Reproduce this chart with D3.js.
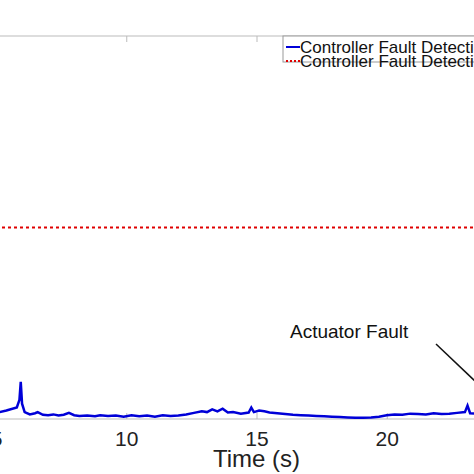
<!DOCTYPE html>
<html lang="en">
<head>
<meta charset="UTF-8">
<script src="https://d3js.org/d3.v7.min.js"></script>
<style>
  html, body { margin: 0; padding: 0; background: #fff; overflow: hidden; }
  svg { font-family: "Liberation Sans", Arial, sans-serif; }
</style>
</head>
<body>
<svg width="474" height="474"></svg>
<script>
  // residual samples (time in s, value as fraction of axis)
  const times = [5.0, 5.4, 5.8, 5.9, 5.95, 6.0, 6.1, 6.3, 6.5, 6.6, 6.8, 7.0, 7.2, 7.4, 7.6, 7.8, 8.0, 8.2, 8.5, 8.8, 9.0, 9.3, 9.6, 9.9, 10.2, 10.5, 10.8, 11.1, 11.4, 11.7, 12.0, 12.3, 12.6, 12.9, 13.1, 13.3, 13.5, 13.7, 13.9, 14.1, 14.4, 14.7, 14.8, 14.9, 15.1, 15.3, 15.5, 15.8, 16.1, 16.4, 16.7, 17.0, 17.3, 17.6, 17.9, 18.2, 18.5, 18.8, 19.1, 19.4, 19.7, 20.0, 20.3, 20.6, 20.9, 21.2, 21.5, 21.8, 22.1, 22.4, 22.7, 23.0, 23.1, 23.2, 23.4, 23.6];
  const residual = [0.016, 0.022, 0.03, 0.05, 0.097, 0.04, 0.018, 0.012, 0.015, 0.018, 0.011, 0.01, 0.012, 0.009, 0.011, 0.016, 0.01, 0.008, 0.009, 0.007, 0.01, 0.008, 0.009, 0.006, 0.01, 0.007, 0.009, 0.006, 0.01, 0.008, 0.009, 0.012, 0.016, 0.02, 0.018, 0.025, 0.02, 0.027, 0.017, 0.018, 0.014, 0.017, 0.03, 0.018, 0.022, 0.02, 0.017, 0.015, 0.013, 0.011, 0.01, 0.009, 0.008, 0.007, 0.006, 0.005, 0.004, 0.003, 0.003, 0.004, 0.006, 0.01, 0.012, 0.011, 0.014, 0.013, 0.012, 0.015, 0.013, 0.014, 0.016, 0.018, 0.035, 0.015, 0.014, 0.013];
  const threshold = 0.5;
  const xTicks = [5, 10, 15, 20, 25];
  const legendLabels = ["Controller Fault Detection Residual", "Controller Fault Detection Threshold"];

  const svg = d3.select("svg");
  const mLeft = -4, mRight = 517, mTop = 36, mBottom = 419;
  const x = d3.scaleLinear().domain([5, 25]).range([mLeft, mRight]);
  const y = d3.scaleLinear().domain([0, 1]).range([mBottom, mTop]);

  // axes box
  svg.append("line").attr("x1", 0).attr("x2", 474).attr("y1", mTop).attr("y2", mTop)
    .attr("stroke", "#bbb").attr("stroke-width", 1);
  svg.append("line").attr("x1", 0).attr("x2", 474).attr("y1", mBottom).attr("y2", mBottom)
    .attr("stroke", "#bbb").attr("stroke-width", 1);

  const ax = svg.append("g").attr("transform", `translate(0,${mBottom})`)
    .call(d3.axisBottom(x).tickValues(xTicks).tickSize(-6).tickPadding(12));
  ax.select(".domain").remove();
  ax.selectAll("line").attr("stroke", "#bbb");
  ax.selectAll("text").attr("font-size", 21).attr("fill", "#222");

  const axTop = svg.append("g").attr("transform", `translate(0,${mTop})`)
    .call(d3.axisBottom(x).tickValues(xTicks).tickSize(6).tickFormat(""));
  axTop.select(".domain").remove();
  axTop.selectAll("line").attr("stroke", "#bbb");

  svg.append("text").attr("x", x(15)).attr("y", 467).attr("text-anchor", "middle")
    .attr("font-size", 24).attr("fill", "#222").text("Time (s)");

  // threshold
  svg.append("line").attr("x1", x(5)).attr("x2", x(25))
    .attr("y1", y(threshold)).attr("y2", y(threshold))
    .attr("stroke", "#e00000").attr("stroke-width", 2.2).attr("stroke-dasharray", "3,3");

  // residual
  const line = d3.line().x((d, i) => x(times[i])).y(d => y(d));
  svg.append("path").datum(residual).attr("d", line)
    .attr("fill", "none").attr("stroke", "#0000d8").attr("stroke-width", 2.5);

  // annotation
  svg.append("text").attr("x", 290).attr("y", 338).attr("font-size", 19).attr("fill", "#111")
    .text("Actuator Fault");
  svg.append("line").attr("x1", 436).attr("y1", 344).attr("x2", 476).attr("y2", 382)
    .attr("stroke", "#111").attr("stroke-width", 1.5);

  // legend
  const lg = svg.append("g");
  lg.append("rect").attr("x", 283).attr("y", 36).attr("width", 200).attr("height", 26)
    .attr("fill", "#fff").attr("stroke", "#999");
  legendLabels.forEach((t, i) => {
    const yy = 47 + i * 14;
    lg.append("line").attr("x1", 286).attr("x2", 300).attr("y1", yy).attr("y2", yy)
      .attr("stroke", i ? "#e00000" : "#0000d8").attr("stroke-width", 2)
      .attr("stroke-dasharray", i ? "2,2" : null);
    lg.append("text").attr("x", 300).attr("y", yy + 6).attr("font-size", 17).attr("fill", "#111").text(t);
  });
</script>
</body>
</html>
